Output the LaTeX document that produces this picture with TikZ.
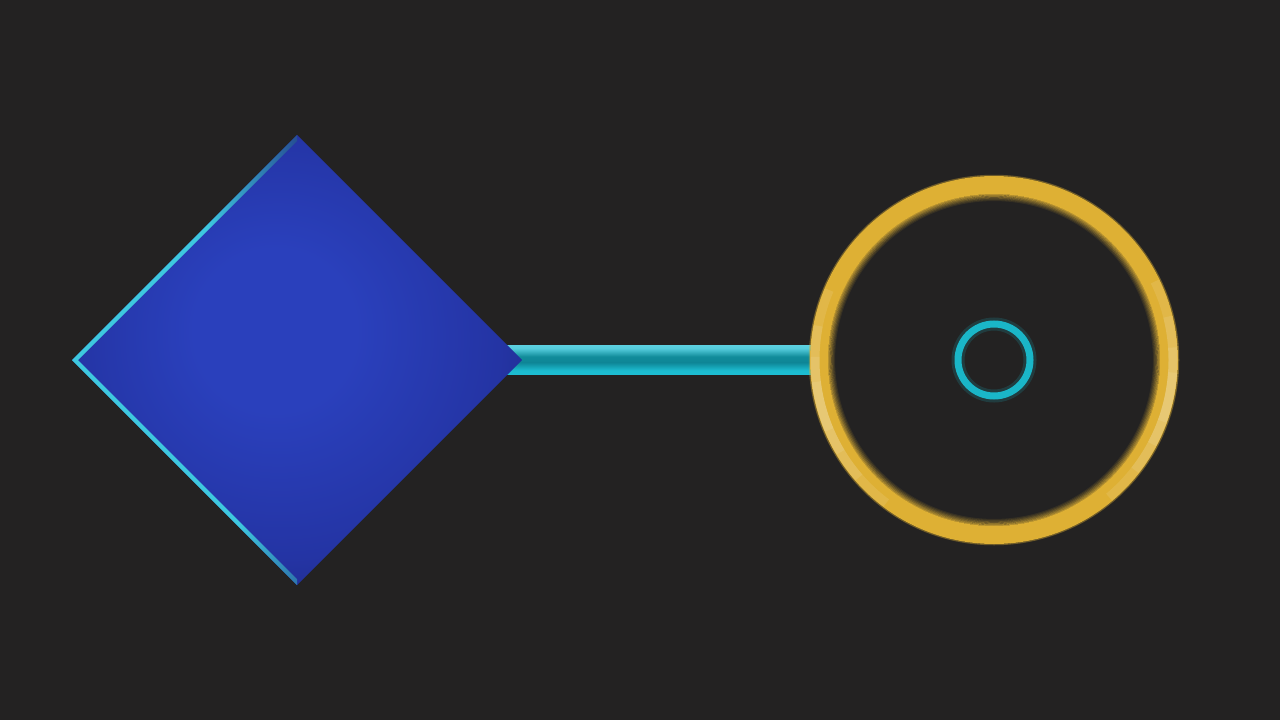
\documentclass[tikz,border=0pt]{standalone}
\usetikzlibrary{shapes.geometric,calc}
\definecolor{bgc}{RGB}{35,34,34}
\definecolor{dcen}{RGB}{42,64,188}
\definecolor{dmid}{RGB}{36,52,164}
\definecolor{dedge}{RGB}{29,36,122}
\definecolor{cyE}{RGB}{62,200,222}
\definecolor{gold}{RGB}{222,176,52}
\definecolor{cream}{RGB}{244,232,196}
\definecolor{hubc}{RGB}{26,182,200}
\definecolor{b0}{RGB}{24,168,192}
\definecolor{b1}{RGB}{32,196,218}
\definecolor{b2}{RGB}{28,188,208}
\definecolor{b3}{RGB}{14,133,150}
\definecolor{b4}{RGB}{17,140,154}
\definecolor{b5}{RGB}{84,204,220}
\definecolor{b6}{RGB}{112,218,232}
\definecolor{b7}{RGB}{80,192,208}
\pgfdeclareradialshading{diafill}{\pgfpoint{-3bp}{4bp}}{color(0bp)=(dcen); color(9bp)=(dcen); color(24bp)=(dmid); color(36bp)=(dedge); color(50bp)=(dedge)}
\pgfdeclarehorizontalshading{edgefadeT}{100bp}{color(0bp)=(cyE); color(55bp)=(cyE); color(82bp)=(dedge); color(100bp)=(dedge)}
\pgfdeclarehorizontalshading{edgefadeB}{100bp}{color(0bp)=(cyE); color(62bp)=(cyE); color(88bp)=(dedge); color(100bp)=(dedge)}
\pgfdeclareverticalshading{barshade}{100bp}{color(0bp)=(b0); color(8bp)=(b1); color(32bp)=(b2); color(46bp)=(b3); color(56bp)=(b4); color(70bp)=(b5); color(88bp)=(b6); color(100bp)=(b7)}
\pgfdeclarelayer{bglayer}
\pgfdeclarelayer{barlayer}
\pgfsetlayers{bglayer,barlayer,main}
\tikzset{
  diabox/.style={diamond, shape aspect=1, minimum width=450pt, minimum height=450pt, inner sep=0pt, outer sep=0pt, shading=diafill},
  ringbox/.style={circle, minimum size=350pt, inner sep=0pt, outer sep=0pt, draw=gold, line width=18pt},
  hubbox/.style={circle, minimum size=72pt, inner sep=0pt, outer sep=0pt, draw=hubc, line width=7pt},
  hilite/.style={draw=cream, opacity=0.14, line width=9pt},
  blur/.style={draw=gold, line width=1.3pt}
}
\begin{document}
\begin{tikzpicture}[x=1pt,y=-1pt]
\begin{pgfonlayer}{bglayer}
\fill[bgc] (0,0) rectangle (1280,720);
\end{pgfonlayer}
\useasboundingbox (0,0) rectangle (1280,720);
% diamond
\node[diabox] (dia) at (297,360) {};
\path[shading=edgefadeT] (dia.west) -- (dia.north) -- ($(dia.north)+(0,6)$) -- ($(dia.west)+(6,0)$) -- cycle;
\path[shading=edgefadeB] (dia.west) -- (dia.south) -- ($(dia.south)+(0,-6)$) -- ($(dia.west)+(6,0)$) -- cycle;
% ring
\node[ringbox] (ring) at (994,360) {};
\foreach \r/\o in {165.6/0.75,164.4/0.6,163.2/0.45,162/0.32,160.8/0.2,159.6/0.1}{
  \draw[blur, opacity=\o] (ring.center) circle[radius=\r];
}
\draw[blur, opacity=0.4] (ring.center) circle[radius=184.6];
\foreach \s in {8,16,26,38}{
  \draw[hilite] ($(ring.center)+(165-\s:179)$) arc[start angle=165-\s, end angle=165+\s, radius=179];
  \draw[hilite] ($(ring.center)+(12-\s:179)$) arc[start angle=12-\s, end angle=12+\s, radius=179];
}
% hub
\draw[hubc, opacity=0.18, line width=13pt] (ring.center) circle[radius=36];
\node[hubbox] (hub) at (ring.center) {};
% connector bar
\begin{pgfonlayer}{barlayer}
\path[shading=barshade] ($(dia.east)+(-20,-14.5)$) rectangle ($(ring.west)+(0,14.5)$);
\end{pgfonlayer}
\end{tikzpicture}
\end{document}
